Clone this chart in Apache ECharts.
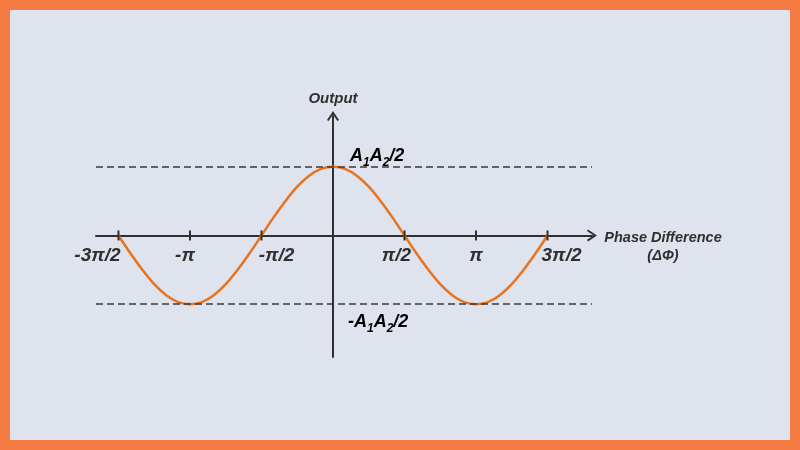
<!DOCTYPE html>
<html>
<head>
<meta charset="utf-8">
<script src="https://cdn.jsdelivr.net/npm/echarts@6/dist/echarts.min.js"></script>
<style>
  html, body { margin: 0; padding: 0; }
  #chart { width: 800px; height: 450px; }
</style>
</head>
<body>
<div id="chart"></div>
<script>
// phase in degrees, output in units of A1A2/2
const phases = [-270, -255, -240, -225, -210, -195, -180, -165, -150, -135, -120, -105, -90,
  -75, -60, -45, -30, -15, 0, 15, 30, 45, 60, 75, 90,
  105, 120, 135, 150, 165, 180, 195, 210, 225, 240, 255, 270]
const outputs = [0, -0.26, -0.5, -0.71, -0.87, -0.97, -1, -0.97, -0.87, -0.71, -0.5, -0.26, 0,
  0.26, 0.5, 0.71, 0.87, 0.97, 1, 0.97, 0.87, 0.71, 0.5, 0.26, 0,
  -0.26, -0.5, -0.71, -0.87, -0.97, -1, -0.97, -0.87, -0.71, -0.5, -0.26, 0]

const tickPhases = [-270, -180, -90, 90, 180, 270]
const tickLabels = ['-3π/2', '-π', '-π/2', 'π/2', 'π', '3π/2']
const levels = [1, -1]

const FONT = '"Liberation Sans", Arial, sans-serif'
const INK = '#2f2f2f'

// labels sit left/right of their tick to keep clear of the curve
const labelShift = { '-3π/2': -21, '-π': -5, '-π/2': 15, 'π/2': -8, 'π': 0, '3π/2': 14 }

const chart = echarts.init(document.getElementById('chart'))

const chevron = 'path://M0,9 L6,0 L12,9 L10.4,10 L6,3.4 L1.6,10 Z'

chart.setOption({
  backgroundColor: '#f47c43',
  animation: false,
  grid: { left: 96, right: 208, top: 116, bottom: 93 },
  xAxis: {
    type: 'value',
    min: -298.3,
    max: 326,
    splitLine: { show: false },
    axisTick: { show: false },
    axisLabel: { show: false },
    axisLine: {
      onZero: true,
      symbol: ['none', chevron],
      symbolSize: [16, 10],
      lineStyle: { color: INK, width: 2 }
    }
  },
  yAxis: {
    type: 'value',
    min: -1.77,
    max: 1.74,
    splitLine: { show: false },
    axisTick: { show: false },
    axisLabel: { show: false },
    name: 'Output',
    nameLocation: 'end',
    nameGap: 10,
    nameTextStyle: { fontFamily: FONT, fontWeight: 'bold', fontStyle: 'italic', fontSize: 15, color: INK },
    axisLine: {
      onZero: true,
      symbol: ['none', chevron],
      symbolSize: [16, 10],
      lineStyle: { color: INK, width: 2 }
    }
  },
  series: [
    {
      type: 'line',
      data: phases.map((p, i) => [p, outputs[i]]),
      smooth: 0.3,
      showSymbol: false,
      lineStyle: { color: '#e8731f', width: 2.5 },
      z: 3,
      markLine: {
        silent: true,
        symbol: ['none', 'none'],
        label: { show: false },
        lineStyle: { color: '#3a3a3a', type: [7, 4], width: 1.5 },
        data: levels.map(v => ({ yAxis: v }))
      }
    },
    {
      type: 'scatter',
      data: tickPhases.map((p, i) => ({ value: [p, 0], name: tickLabels[i] })),
      symbol: 'rect',
      symbolSize: [2, 10],
      itemStyle: { color: INK, opacity: 1 },
      z: 4,
      label: {
        show: true,
        position: 'bottom',
        distance: 6,
        formatter: p => p.name,
        fontFamily: FONT,
        fontWeight: 'bold',
        fontStyle: 'italic',
        fontSize: 19,
        color: INK,
        opacity: 1
      },
      labelLayout: p => ({ dx: labelShift[tickLabels[p.dataIndex]] || 0 })
    }
  ]
})

// level labels and x axis name, anchored to the data positions
const sub = { fontFamily: FONT, fontWeight: 'bold', fontStyle: 'italic', color: INK }
const rich = {
  a: Object.assign({ fontSize: 18, lineHeight: 22 }, sub),
  s: Object.assign({ fontSize: 12, lineHeight: 22, padding: [13, 0, 0, 0] }, sub)
}
const topPt = chart.convertToPixel({ gridIndex: 0 }, [0, levels[0]])
const botPt = chart.convertToPixel({ gridIndex: 0 }, [0, levels[1]])
const xEnd = chart.convertToPixel({ gridIndex: 0 }, [326, 0])

chart.setOption({
  graphic: [
    { type: 'rect', z: -10, silent: true, shape: { x: 10, y: 10, width: 780, height: 430 }, style: { fill: '#dfe3ed' } },
    {
      type: 'text', x: topPt[0] + 17, y: topPt[1] - 11,
      style: { text: '{a|A}{s|1}{a|A}{s|2}{a|/2}', rich: rich, verticalAlign: 'middle', align: 'left' }
    },
    {
      type: 'text', x: botPt[0] + 15, y: botPt[1] + 18,
      style: { text: '{a|-A}{s|1}{a|A}{s|2}{a|/2}', rich: rich, verticalAlign: 'middle', align: 'left' }
    },
    {
      type: 'text', x: xEnd[0] + 71, y: xEnd[1] + 12,
      style: {
        text: 'Phase Difference\n(ΔΦ)',
        font: 'italic bold 14.5px ' + FONT,
        fill: INK,
        align: 'center',
        verticalAlign: 'middle',
        lineHeight: 18
      }
    }
  ]
})
</script>
</body>
</html>
